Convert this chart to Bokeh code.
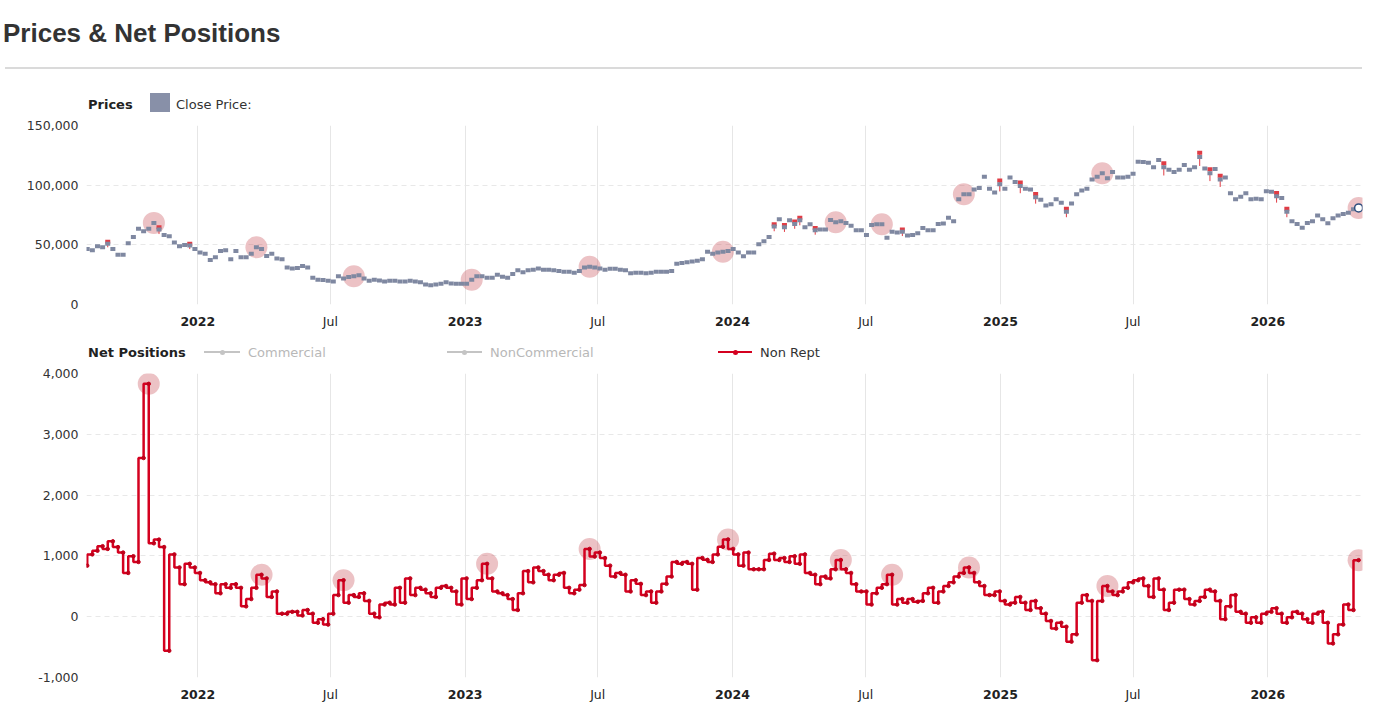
import pandas as pd
from bokeh.plotting import figure
from bokeh.layouts import column
from bokeh.models import (Range1d, FixedTicker, NumeralTickFormatter, DatetimeAxis,
                          LinearAxis, DatetimeTickFormatter, Grid, Div)
from bokeh.embed import file_html
from bokeh.resources import INLINE

# ---------------- data ----------------
start_date = "2021-08-03"
n_weeks = 249

close_price_k = [
    46.6, 45.4, 48.8, 47.9, 51.0, 46.6, 41.7, 41.7, 51.3, 56.6,
    63.4, 61.3, 63.4, 68.4, 62.8, 58.2, 57.2, 51.9, 48.8, 49.8,
    49.4, 46.6, 43.5, 42.6, 37.3, 39.5, 44.8, 45.4, 37.9, 44.8,
    39.5, 39.5, 42.6, 47.9, 46.6, 40.7, 42.6, 38.6, 37.9, 31.1,
    30.2, 30.5, 32.3, 31.1, 22.4, 20.8, 20.5, 19.9, 19.3, 23.6,
    21.8, 23.0, 23.6, 24.6, 21.8, 19.9, 20.8, 20.2, 19.3, 19.9,
    19.9, 19.3, 19.3, 19.9, 19.3, 18.7, 16.8, 16.2, 16.8, 17.4,
    18.7, 17.7, 17.4, 17.4, 17.4, 20.8, 23.6, 23.6, 22.4, 22.4,
    24.9, 23.3, 22.4, 25.5, 28.6, 27.0, 28.6, 29.2, 30.2, 29.2,
    29.2, 28.6, 28.0, 27.4, 27.4, 26.7, 28.0, 31.1, 31.7, 31.0,
    30.2, 29.2, 29.9, 29.9, 29.2, 28.6, 26.1, 26.7, 26.7, 26.1,
    26.7, 27.4, 27.4, 27.4, 28.0, 34.2, 34.8, 35.5, 36.0, 36.7,
    37.9, 44.2, 42.6, 43.5, 44.2, 44.8, 46.6, 43.5, 40.4, 43.5,
    43.5, 50.4, 52.9, 56.6, 65.3, 71.5, 64.7, 70.6, 67.5, 70.6,
    64.7, 67.2, 62.2, 62.8, 62.8, 70.9, 69.0, 69.7, 68.4, 66.0,
    62.2, 62.2, 58.2, 66.6, 67.2, 67.2, 56.0, 61.0, 60.3, 61.0,
    57.8, 58.2, 59.7, 64.1, 62.2, 62.2, 67.5, 67.8, 72.8, 69.7,
    88.3, 92.4, 92.4, 96.4, 97.7, 107.0, 97.0, 93.9, 100.8, 97.0,
    106.4, 102.6, 99.2, 97.0, 96.4, 89.9, 87.7, 83.0, 84.0, 88.3,
    85.2, 77.8, 84.6, 92.4, 95.5, 97.0, 104.8, 107.0, 110.0, 105.7,
    111.0, 106.4, 106.4, 107.0, 109.5, 119.7, 119.4, 118.8, 115.0, 121.0,
    115.0, 113.0, 111.0, 113.0, 117.0, 113.0, 115.0, 123.5, 114.0, 110.0,
    113.5, 104.8, 106.4, 93.3, 88.3, 90.2, 93.3, 88.3, 88.6, 88.3,
    94.9, 94.5, 90.8, 89.3, 77.8, 69.7, 67.5, 64.4, 68.4, 69.7,
    74.6, 71.5, 68.0, 72.2, 74.6, 75.9, 76.8, 79.9, 80.9,
]

down_weeks = [4, 14, 20, 134, 136, 138, 139, 142, 159, 178, 182, 185, 191,
              210, 217, 219, 221, 232, 234]

non_rept_net = [
    840,
    1025, 1085, 1160, 1115, 1240, 1145, 1055, 720, 995, 900,
    2610, 3830, 1207, 1268, 1146, -560, 1025, 810, 535, 870,
    810, 720, 600, 565, 535, 385, 535, 475, 535, 475,
    170, 290, 475, 690, 630, 325, 415, 50, 50, 80,
    80, 20, 110, 50, -100, -40, -130, 50, 355, 600,
    230, 355, 325, 385, 260, 50, -10, 200, 230, 200,
    475, 230, 630, 355, 475, 445, 385, 325, 475, 505,
    475, 415, 200, 630, 290, 475, 600, 870, 630, 415,
    385, 355, 290, 110, 385, 750, 565, 810, 750, 690,
    600, 690, 720, 475, 385, 445, 520, 1115, 990, 1055,
    965, 840, 660, 720, 690, 415, 600, 540, 355, 415,
    230, 415, 540, 660, 900, 870, 900, 870, 445, 965,
    935, 900, 1025, 1150, 1270, 1115, 1025, 840, 1055, 780,
    780, 780, 933, 1037, 933, 965, 900, 995, 870, 1025,
    720, 690, 535, 660, 630, 780, 933, 780, 720, 535,
    415, 415, 200, 385, 475, 535, 690, 200, 290, 230,
    290, 245, 260, 385, 475, 230, 415, 505, 565, 660,
    720, 810, 720, 565, 505, 355, 355, 415, 260, 200,
    230, 325, 230, 110, 260, 140, 50, -70, -195, -100,
    -165, -410, -290, 230, 355, 260, -715, 260, 505, 415,
    355, 415, 475, 565, 600, 630, 505, 325, 630, 445,
    110, 230, 445, 445, 290, 200, 260, 325, 445, 415,
    260, -40, 170, 355, 80, 50, -100, -10, -100, 50,
    80, 140, 50, -100, -10, 80, 50, -40, -100, 50,
    80, -100, -440, -290, -130, 200, 110, 930,
]

price_highlight = [13, 33, 52, 75, 98, 124, 146, 155, 171, 198, 248]
net_highlight = [12, 34, 50, 78, 98, 125, 147, 157, 172, 199, 248]

year_ticks = ["2022-01-01", "2023-01-01", "2024-01-01", "2025-01-01", "2026-01-01"]
jul_ticks = ["2022-07-01", "2023-07-01", "2024-07-01", "2025-07-01"]
price_ticks = [0, 50000, 100000, 150000]
net_ticks = [-1000, 0, 1000, 2000, 3000, 4000]

# ---------------- helpers ----------------
EPOCH = pd.Timestamp("1970-01-01")
DAY = 86400000.0


def ms(d):
    return (pd.Timestamp(d) - EPOCH) / pd.Timedelta(milliseconds=1)


dates_ms = [ms(d) for d in pd.date_range(start_date, periods=n_weeks, freq="7D")]
prices = [v * 1000 for v in close_price_k]
year_ms = [ms(d) for d in year_ticks]
jul_ms = [ms(d) for d in jul_ticks]

x0 = ms("2021-08-02")
x_range = Range1d(x0, x0 + 1742.3 * DAY)

W = 1370
AX_FONT = "DejaVu Sans"
TXT = "#333333"
RED = "#d4001f"
GREY_DOT = "#7f88a1"


def fmt(s):
    keys = ["microseconds", "milliseconds", "seconds", "minsec", "minutes",
            "hourmin", "hours", "days", "months", "years"]
    return DatetimeTickFormatter(**{k: s for k in keys})


def make_chart(height, top, bottom, yr, yticks):
    p = figure(width=W, height=height, x_range=x_range, y_range=Range1d(*yr),
               x_axis_type=None, y_axis_type=None, toolbar_location=None,
               output_backend="svg", min_border_left=86, min_border_right=W - 86 - 1276,
               min_border_top=top, min_border_bottom=bottom, title=None)
    p.outline_line_color = None
    yax = LinearAxis(ticker=FixedTicker(ticks=yticks),
                     formatter=NumeralTickFormatter(format="0,0"))
    yax.axis_line_color = None
    yax.major_tick_line_color = None
    yax.minor_tick_line_color = None
    yax.major_tick_out = 0
    yax.major_tick_in = 0
    yax.major_label_standoff = 8
    yax.major_label_text_font = AX_FONT
    yax.major_label_text_font_size = "12.5px"
    yax.major_label_text_color = TXT
    p.add_layout(yax, "left")

    axy = DatetimeAxis(ticker=FixedTicker(ticks=year_ms), formatter=fmt("%Y"))
    axj = DatetimeAxis(ticker=FixedTicker(ticks=jul_ms), formatter=fmt("%b"))
    for ax, style, so in ((axy, "bold", 12), (axj, "normal", -15)):
        ax.axis_line_color = None
        ax.major_tick_line_color = None
        ax.minor_tick_line_color = None
        ax.major_tick_out = 0
        ax.major_tick_in = 0
        ax.major_label_standoff = so
        ax.major_label_text_font = AX_FONT
        ax.major_label_text_font_size = "12.5px"
        ax.major_label_text_font_style = style
        ax.major_label_text_color = "#222222"
        p.add_layout(ax, "below")

    p.add_layout(Grid(dimension=1, ticker=FixedTicker(ticks=yticks),
                      grid_line_color="#e8e8e8", grid_line_dash="5 4"))
    p.add_layout(Grid(dimension=0, ticker=FixedTicker(ticks=year_ms + jul_ms),
                      grid_line_color="#e6e6e6"))
    return p


def abs_text(left, top, txt, size, color, bold=False, family=AX_FONT):
    weight = "bold" if bold else "normal"
    return (f"<div style=\"position:absolute;left:{left}px;top:{top}px;"
            f"font-family:'{family}';font-size:{size}px;font-weight:{weight};"
            f"line-height:1;color:{color};white-space:nowrap;\">{txt}</div>")


def abs_box(left, top, w, h, color, radius=0):
    return (f"<div style=\"position:absolute;left:{left}px;top:{top}px;width:{w}px;"
            f"height:{h}px;background:{color};border-radius:{radius}px;\"></div>")


# ---------------- header (title + price legend) ----------------
head_html = (
    f"<div style=\"position:relative;width:{W}px;height:115px;\">"
    + abs_text(3, 20, "Prices &amp; Net Positions", 26, TXT, True, "Liberation Sans")
    + abs_box(5, 67, 1357, 1.5, "#dadada")
    + abs_text(88, 97.5, "Prices", 13, "#222222", True)
    + abs_box(150, 93, 20, 19, "#8890a8")
    + abs_text(176, 97.5, "Close Price:", 13, TXT)
    + "</div>"
)
header = Div(text=head_html, width=W, height=115, margin=(0, 0, 0, 0))

# ---------------- price chart ----------------
pc = make_chart(225, 10, 36, (0, 150000), price_ticks)
pc.scatter([dates_ms[i] for i in price_highlight], [prices[i] for i in price_highlight],
           size=22, fill_color="#c8505a", fill_alpha=0.35, line_color=None)
rx = [dates_ms[i] for i in down_weeks]
rp = [prices[i] for i in down_weeks]
pc.segment(x0=rx, y0=[v * 0.94 for v in rp], x1=rx, y1=[v * 1.03 for v in rp],
           line_color="#e03c45", line_width=1)
pc.rect(x=rx, y=[v * 1.03 for v in rp], width=5, height=4, width_units="screen",
        height_units="screen", fill_color="#e03c45", line_color=None)
pc.rect(x=dates_ms, y=prices, width=5, height=4, width_units="screen",
        height_units="screen", fill_color=GREY_DOT, line_color=None)
pc.scatter([dates_ms[-1]], [prices[-1]], size=8, fill_color="white",
           line_color="#2f4f7f", line_width=1.5)

# ---------------- net positions legend ----------------
leg_html = f"<div style=\"position:relative;width:{W}px;height:25px;\">" + abs_text(88, 6, "Net Positions", 13, "#222222", True)
for lx0, lx1, lab, col, tcol in ((204, 240, "Commercial", "#c4c4c4", "#b8b8b8"),
                                 (447, 482, "NonCommercial", "#c4c4c4", "#b8b8b8"),
                                 (718, 752, "Non Rept", RED, TXT)):
    leg_html += abs_box(lx0, 11, lx1 - lx0, 2, col)
    leg_html += abs_box((lx0 + lx1) / 2 - 2.5, 9.5, 5, 5, col, 3)
    leg_html += abs_text(lx1 + 8, 6, lab, 13, tcol)
leg_html += "</div>"
legend2 = Div(text=leg_html, width=W, height=25, margin=(0, 0, 0, 0))

# ---------------- net positions chart ----------------
nc = make_chart(343, 8, 31, (-1000, 4000), net_ticks)
nc.scatter([dates_ms[i] for i in net_highlight], [non_rept_net[i] for i in net_highlight],
           size=22, fill_color="#c8505a", fill_alpha=0.35, line_color=None)
nc.step(dates_ms, non_rept_net, mode="before", line_color=RED, line_width=2.5)
nc.scatter(dates_ms, non_rept_net, size=3.5, color="#c0001a")

layout = column(header, pc, legend2, nc, spacing=0)
open("out.html", "w").write(file_html(layout, INLINE, title="Prices & Net Positions"))
